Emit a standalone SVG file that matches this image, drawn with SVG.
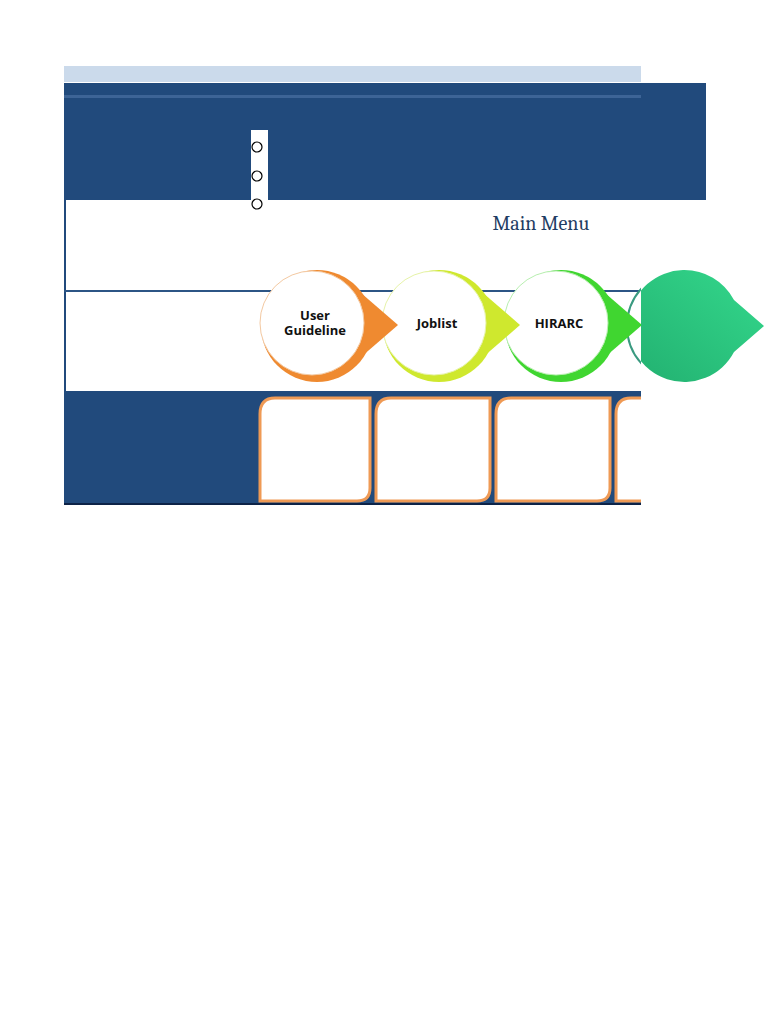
<svg xmlns="http://www.w3.org/2000/svg" width="768" height="1024" viewBox="0 0 768 1024">
<defs>
<style>
.lbl{font-family:"Open Sans","Liberation Sans",sans-serif;font-size:13px;font-weight:bold;fill:#111;text-anchor:middle}
.box{fill:#fff;stroke:#ef9a55;stroke-width:3}
.hole{fill:#fff;stroke:#000;stroke-width:1.2}
</style>
<linearGradient id="tg" x1="0" y1="1" x2="1" y2="0"><stop offset="0" stop-color="#22b070"/><stop offset="1" stop-color="#34d88c"/></linearGradient>
<clipPath id="cl"><rect x="0" y="0" width="641" height="1024"/></clipPath>
<clipPath id="cr"><rect x="641" y="0" width="127" height="1024"/></clipPath>
</defs>
<rect width="768" height="1024" fill="#fff"/>
<rect x="64" y="66" width="577" height="16" fill="#cbdaeb"/>
<rect x="64" y="83" width="642" height="117" fill="#214a7c"/>
<rect x="64" y="95" width="577" height="3" fill="#3d6496"/>
<line x1="65" y1="200" x2="65" y2="391" stroke="#214a7c" stroke-width="2"/>
<line x1="64" y1="291" x2="641" y2="291" stroke="#2c5585" stroke-width="2"/>
<rect x="64" y="391" width="577" height="114" fill="#214a7c"/>
<line x1="64" y1="504" x2="641" y2="504" stroke="#0d2347" stroke-width="2"/>
<g id="holes">
<rect x="251" y="130" width="17" height="70" fill="#fff"/>
<circle class="hole" cx="257" cy="147" r="5"/>
<circle class="hole" cx="257" cy="176" r="5"/>
<circle class="hole" cx="257" cy="204" r="5"/>
</g>
<text x="541" y="230" font-family="Cambria,'Liberation Serif',serif" font-size="20" fill="#1f3d63" text-anchor="middle">Main Menu</text>
<g id="n4b"><circle cx="683" cy="326" r="56" fill="#fff" stroke="#3a9a80" stroke-width="2" clip-path="url(#cl)"/></g>
<g id="n3"><circle cx="561" cy="326" r="56" fill="#40d630"/><polygon points="590,280 642,325 590,370" fill="#40d630"/><circle cx="556" cy="323" r="52" fill="#fff" stroke="#b8efb0" stroke-width="1"/><text class="lbl" x="559" y="328" font-weight="normal">HIRARC</text></g>
<g id="n2"><circle cx="439" cy="326" r="56" fill="#cfe82e"/><polygon points="468,280 520,325 468,370" fill="#cfe82e"/><circle cx="434" cy="323" r="52" fill="#fff" stroke="#e6f3a8" stroke-width="1"/><text class="lbl" x="437" y="328">Joblist</text></g>
<g id="n1"><circle cx="317" cy="326" r="56" fill="#ef8a30"/><polygon points="346,280 398,325 346,370" fill="#ef8a30"/><circle cx="312" cy="323" r="52" fill="#fff" stroke="#f3c9a2" stroke-width="1"/><text class="lbl" x="315" y="320">User<tspan x="315" dy="15">Guideline</tspan></text></g>
<g id="n4"><path d="M683 270 A56 56 0 1 0 734 352 L764 326 L734 300 A56 56 0 0 0 683 270Z" fill="url(#tg)" clip-path="url(#cr)"/></g>
<g id="boxes" clip-path="url(#cl)">
<path class="box" d="M275 398 H370 V488 Q370 501 357 501 H260 V414 Q260 398 275 398Z"/>
<path class="box" d="M391 398 H490 V488 Q490 501 477 501 H376 V414 Q376 398 391 398Z"/>
<path class="box" d="M511 398 H610 V488 Q610 501 597 501 H496 V414 Q496 398 511 398Z"/>
<path class="box" d="M631 398 H730 V488 Q730 501 717 501 H616 V414 Q616 398 631 398Z"/>
</g>
</svg>
